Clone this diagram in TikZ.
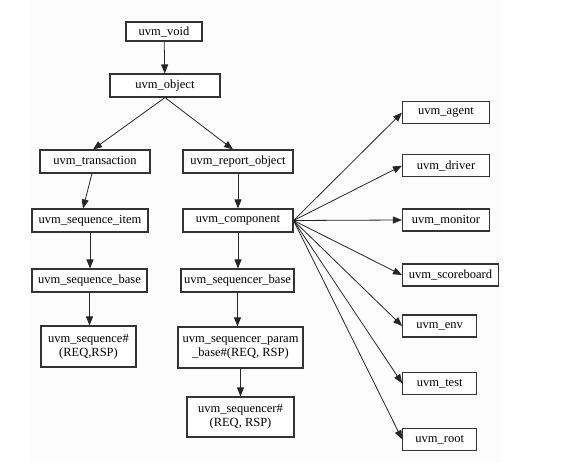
\documentclass[tikz,border=0pt]{standalone}
\usepackage{fontspec}
\setmainfont{Liberation Serif}
\newfontfamily\tnr{Liberation Serif}
\usetikzlibrary{arrows.meta}
\begin{document}
\begin{tikzpicture}[x=1pt,y=-1pt,
  box/.style={draw=black!80,line width=1.1pt,fill=white,inner sep=0pt,font=\tnr\fontsize{12.5}{14}\selectfont,align=center},
  arr/.style={draw=black!85,line width=0.8pt,-{Triangle[length=9pt,width=7pt]}}]
\useasboundingbox (0,0) rectangle (576,463);
\fill[black!1] (30,0) rectangle (502,463);
% left / middle tree
\node[box,minimum width=76pt,minimum height=19pt] (void) at (164,31.5) {uvm\_void};
\node[box,minimum width=110pt,minimum height=23pt] (obj) at (165,85.5) {uvm\_object};
\node[box,minimum width=110pt,minimum height=23pt] (trans) at (95,161.5) {uvm\_transaction};
\node[box,minimum width=110pt,minimum height=23pt] (rep) at (238,161.5) {uvm\_report\_object};
\node[box,minimum width=116pt,minimum height=23pt] (item) at (90,220.5) {uvm\_sequence\_item};
\node[box,minimum width=110pt,minimum height=23pt] (comp) at (238,220.5) {uvm\_component};
\node[box,minimum width=115pt,minimum height=23pt] (sbase) at (89.5,280.5) {uvm\_sequence\_base};
\node[box,minimum width=113pt,minimum height=23pt] (qbase) at (237.5,280.5) {uvm\_sequencer\_base};
\node[box,minimum width=95pt,minimum height=41pt] (seq) at (88.5,346.5) {uvm\_sequence\#\\(REQ,RSP)};
\node[box,minimum width=125pt,minimum height=41pt] (param) at (240.5,347.5) {uvm\_sequencer\_param\\\_base\#(REQ, RSP)};
\node[box,minimum width=107pt,minimum height=40pt] (sqr) at (240.5,417) {uvm\_sequencer\#\\(REQ, RSP)};
% right column
\node[box,minimum width=87pt,minimum height=22pt] (agent) at (446,112.7) {uvm\_agent};
\node[box,minimum width=87pt,minimum height=22pt] (driver) at (446,165.7) {uvm\_driver};
\node[box,minimum width=87pt,minimum height=22pt] (monitor) at (446,220) {uvm\_monitor};
\node[box,minimum width=96pt,minimum height=22pt] (score) at (450.5,275) {uvm\_scoreboard};
\node[box,minimum width=74pt,minimum height=22pt] (env) at (439.7,326) {uvm\_env};
\node[box,minimum width=74pt,minimum height=22pt] (test) at (439.7,383.3) {uvm\_test};
\node[box,minimum width=74pt,minimum height=22pt] (root) at (439.7,439.3) {uvm\_root};
% connectors
\draw[arr] (void) -- (obj);
\draw[arr] (obj.south) -- ([xshift=-2pt]trans.north);
\draw[arr] (obj.south) -- ([xshift=-5pt]rep.north);
\draw[arr] ([xshift=-3pt]trans.south) -- ([xshift=-7pt]item.north);
\draw[arr] (rep) -- (comp);
\draw[arr] (item) -- (item.south |- sbase.north);
\draw[arr] (sbase) -- (sbase.south |- seq.north);
\draw[arr] (comp) -- (comp.south |- qbase.north);
\draw[arr] (qbase) -- (qbase.south |- param.north);
\draw[arr] (param) -- (param.south |- sqr.north);
\foreach \t in {agent,driver,monitor,score,env,test,root}
  \draw[arr] (comp.east) -- (\t.west);
\end{tikzpicture}
\end{document}
